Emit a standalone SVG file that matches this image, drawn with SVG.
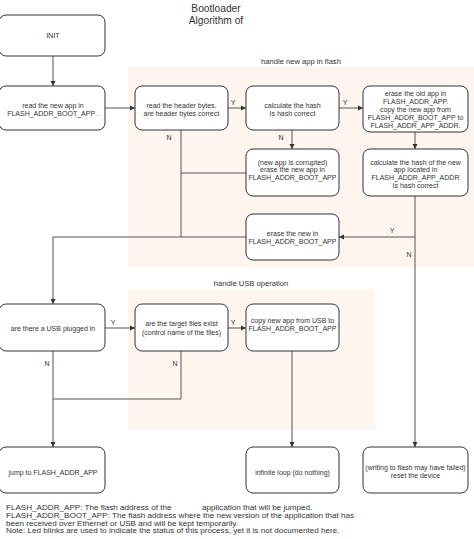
<svg xmlns="http://www.w3.org/2000/svg" width="474" height="539" viewBox="0 0 474 539">
<style>
.bg{fill:#fdf5ee;stroke:none}
.box{fill:#ffffff;stroke:#333333;stroke-width:1}
.t{font-family:"Liberation Sans",Arial,sans-serif;font-size:7px;fill:#333333;text-anchor:middle}
.lbl{font-family:"Liberation Sans",Arial,sans-serif;font-size:7px;fill:#333333;text-anchor:middle}
.grp{font-family:"Liberation Sans",Arial,sans-serif;font-size:7.6px;fill:#333333;text-anchor:middle}
.title{font-family:"Liberation Sans",Arial,sans-serif;font-size:10.2px;fill:#333333;text-anchor:middle}
.note{font-family:"Liberation Sans",Arial,sans-serif;font-size:8.1px;fill:#333333}
.c{fill:none;stroke:#555555;stroke-width:1}
</style>
<defs>
<marker id="arr" markerWidth="6" markerHeight="6" refX="5" refY="3" orient="auto" markerUnits="userSpaceOnUse">
<path d="M0,0.5 L5,3 L0,5.5 Z" fill="#333333"/>
</marker>
</defs>
<rect class="bg" x="128" y="67" width="346" height="200"/>
<rect class="bg" x="128" y="289" width="247" height="141"/>
<text class="grp" x="301" y="64">handle new app in flash</text>
<text class="grp" x="251" y="286">handle USB operation</text>
<text class="title" x="216" y="12">Bootloader</text>
<text class="title" x="216" y="23.5">Algorithm of</text>
<g id="connectors">
<path class="c" d="M53 56 V86" marker-end="url(#arr)"/>
<path class="c" d="M105 108 H135" marker-end="url(#arr)"/>
<path class="c" d="M228 108 H246" marker-end="url(#arr)"/>
<path class="c" d="M339 108 H363" marker-end="url(#arr)"/>
<path class="c" d="M292 130 V149" marker-end="url(#arr)"/>
<path class="c" d="M415 132 V149" marker-end="url(#arr)"/>
<path class="c" d="M415 196 V237 H339" marker-end="url(#arr)"/>
<path class="c" d="M415 237 V447" marker-end="url(#arr)"/>
<path class="c" d="M181 130 V237"/>
<path class="c" d="M246 173 H181"/>
<path class="c" d="M246 237 H53 V304" marker-end="url(#arr)"/>
<path class="c" d="M105 328 H135" marker-end="url(#arr)"/>
<path class="c" d="M228 328 H246" marker-end="url(#arr)"/>
<path class="c" d="M181 351 V399 H53"/>
<path class="c" d="M53 351 V447" marker-end="url(#arr)"/>
<path class="c" d="M292 351 V447" marker-end="url(#arr)"/>
<text class="lbl" x="233" y="105">Y</text>
<text class="lbl" x="345" y="105">Y</text>
<text class="lbl" x="169" y="140">N</text>
<text class="lbl" x="281" y="140">N</text>
<text class="lbl" x="392" y="233">Y</text>
<text class="lbl" x="409" y="257">N</text>
<text class="lbl" x="113" y="325">Y</text>
<text class="lbl" x="233" y="325">Y</text>
<text class="lbl" x="47" y="366">N</text>
<text class="lbl" x="175" y="366">N</text>
</g>
<g id="init"><rect class="box" x="-1" y="15" width="106" height="41" rx="7"/><text class="t" x="53" y="38">INIT</text></g>
<g id="read-new-app"><rect class="box" x="-1" y="86" width="106" height="44" rx="7"/><text class="t" x="53" y="107.5">read the new app in</text><text class="t" x="53" y="115.5">FLASH_ADDR_BOOT_APP .</text></g>
<g id="header"><rect class="box" x="135" y="86" width="93" height="44" rx="7"/><text class="t" x="181.5" y="107.5">read the header bytes.</text><text class="t" x="181.5" y="115.5">are header bytes correct</text></g>
<g id="hash"><rect class="box" x="246" y="86" width="93" height="44" rx="7"/><text class="t" x="292.5" y="107.5">calculate the hash</text><text class="t" x="292.5" y="115.5">Is hash correct</text></g>
<g id="erase-old"><rect class="box" x="363" y="86" width="105" height="46" rx="7"/><text class="t" x="415.5" y="95.5">erase the old app in</text><text class="t" x="415.5" y="103.5">FLASH_ADDR_APP.</text><text class="t" x="415.5" y="111.5">copy the new app from</text><text class="t" x="415.5" y="119.5">FLASH_ADDR_BOOT_APP to</text><text class="t" x="415.5" y="127.5">FLASH_ADDR_APP_ADDR.</text></g>
<g id="corrupted"><rect class="box" x="246" y="149" width="93" height="47" rx="7"/><text class="t" x="292.5" y="164.5">(new app is corrupted)</text><text class="t" x="292.5" y="172">erase the new app in</text><text class="t" x="292.5" y="179.5">FLASH_ADDR_BOOT_APP</text></g>
<g id="calc-hash"><rect class="box" x="363" y="149" width="105" height="47" rx="7"/><text class="t" x="415.5" y="164.5">calculate the hash of the new</text><text class="t" x="415.5" y="172">app located in</text><text class="t" x="415.5" y="180">FLASH_ADDR_APP_ADDR</text><text class="t" x="415.5" y="188">Is hash correct</text></g>
<g id="erase-new"><rect class="box" x="246" y="214" width="93" height="46" rx="7"/><text class="t" x="292.5" y="235.5">erase the new in</text><text class="t" x="292.5" y="243.5">FLASH_ADDR_BOOT_APP</text></g>
<g id="usb"><rect class="box" x="-1" y="304" width="106" height="47" rx="7"/><text class="t" x="53" y="330.5">are there a USB plugged in</text></g>
<g id="target"><rect class="box" x="135" y="304" width="93" height="47" rx="7"/><text class="t" x="181.5" y="325.5">are the target files exist</text><text class="t" x="181.5" y="334.5">(control name of the files)</text></g>
<g id="copy"><rect class="box" x="246" y="304" width="93" height="47" rx="7"/><text class="t" x="292.5" y="322.5">copy new app from USB to</text><text class="t" x="292.5" y="330.5">FLASH_ADDR_BOOT_APP</text></g>
<g id="jump"><rect class="box" x="-1" y="447" width="106" height="46" rx="7"/><text class="t" x="53" y="475">jump to FLASH_ADDR_APP</text></g>
<g id="infinite"><rect class="box" x="246" y="447" width="93" height="46" rx="7"/><text class="t" x="292.5" y="475">infinite loop (do nothing)</text></g>
<g id="reset"><rect class="box" x="363" y="447" width="105" height="46" rx="7"/><text class="t" x="415.5" y="469.5">(writing to flash may have failed)</text><text class="t" x="415.5" y="477.5">reset the device</text></g>
<text class="note" x="6" y="510">FLASH_ADDR_APP: The flash address of the</text>
<text class="note" x="202" y="510">application that will be jumped.</text>
<text class="note" x="6" y="518">FLASH_ADDR_BOOT_APP: The flash address where the new version of the application that has</text>
<text class="note" x="6" y="525.5">been received over Ethernet or USB and will be kept temporarily.</text>
<text class="note" x="6" y="533">Note: Led blinks are used to indicate the status of this process, yet it is not documented here.</text>
</svg>
